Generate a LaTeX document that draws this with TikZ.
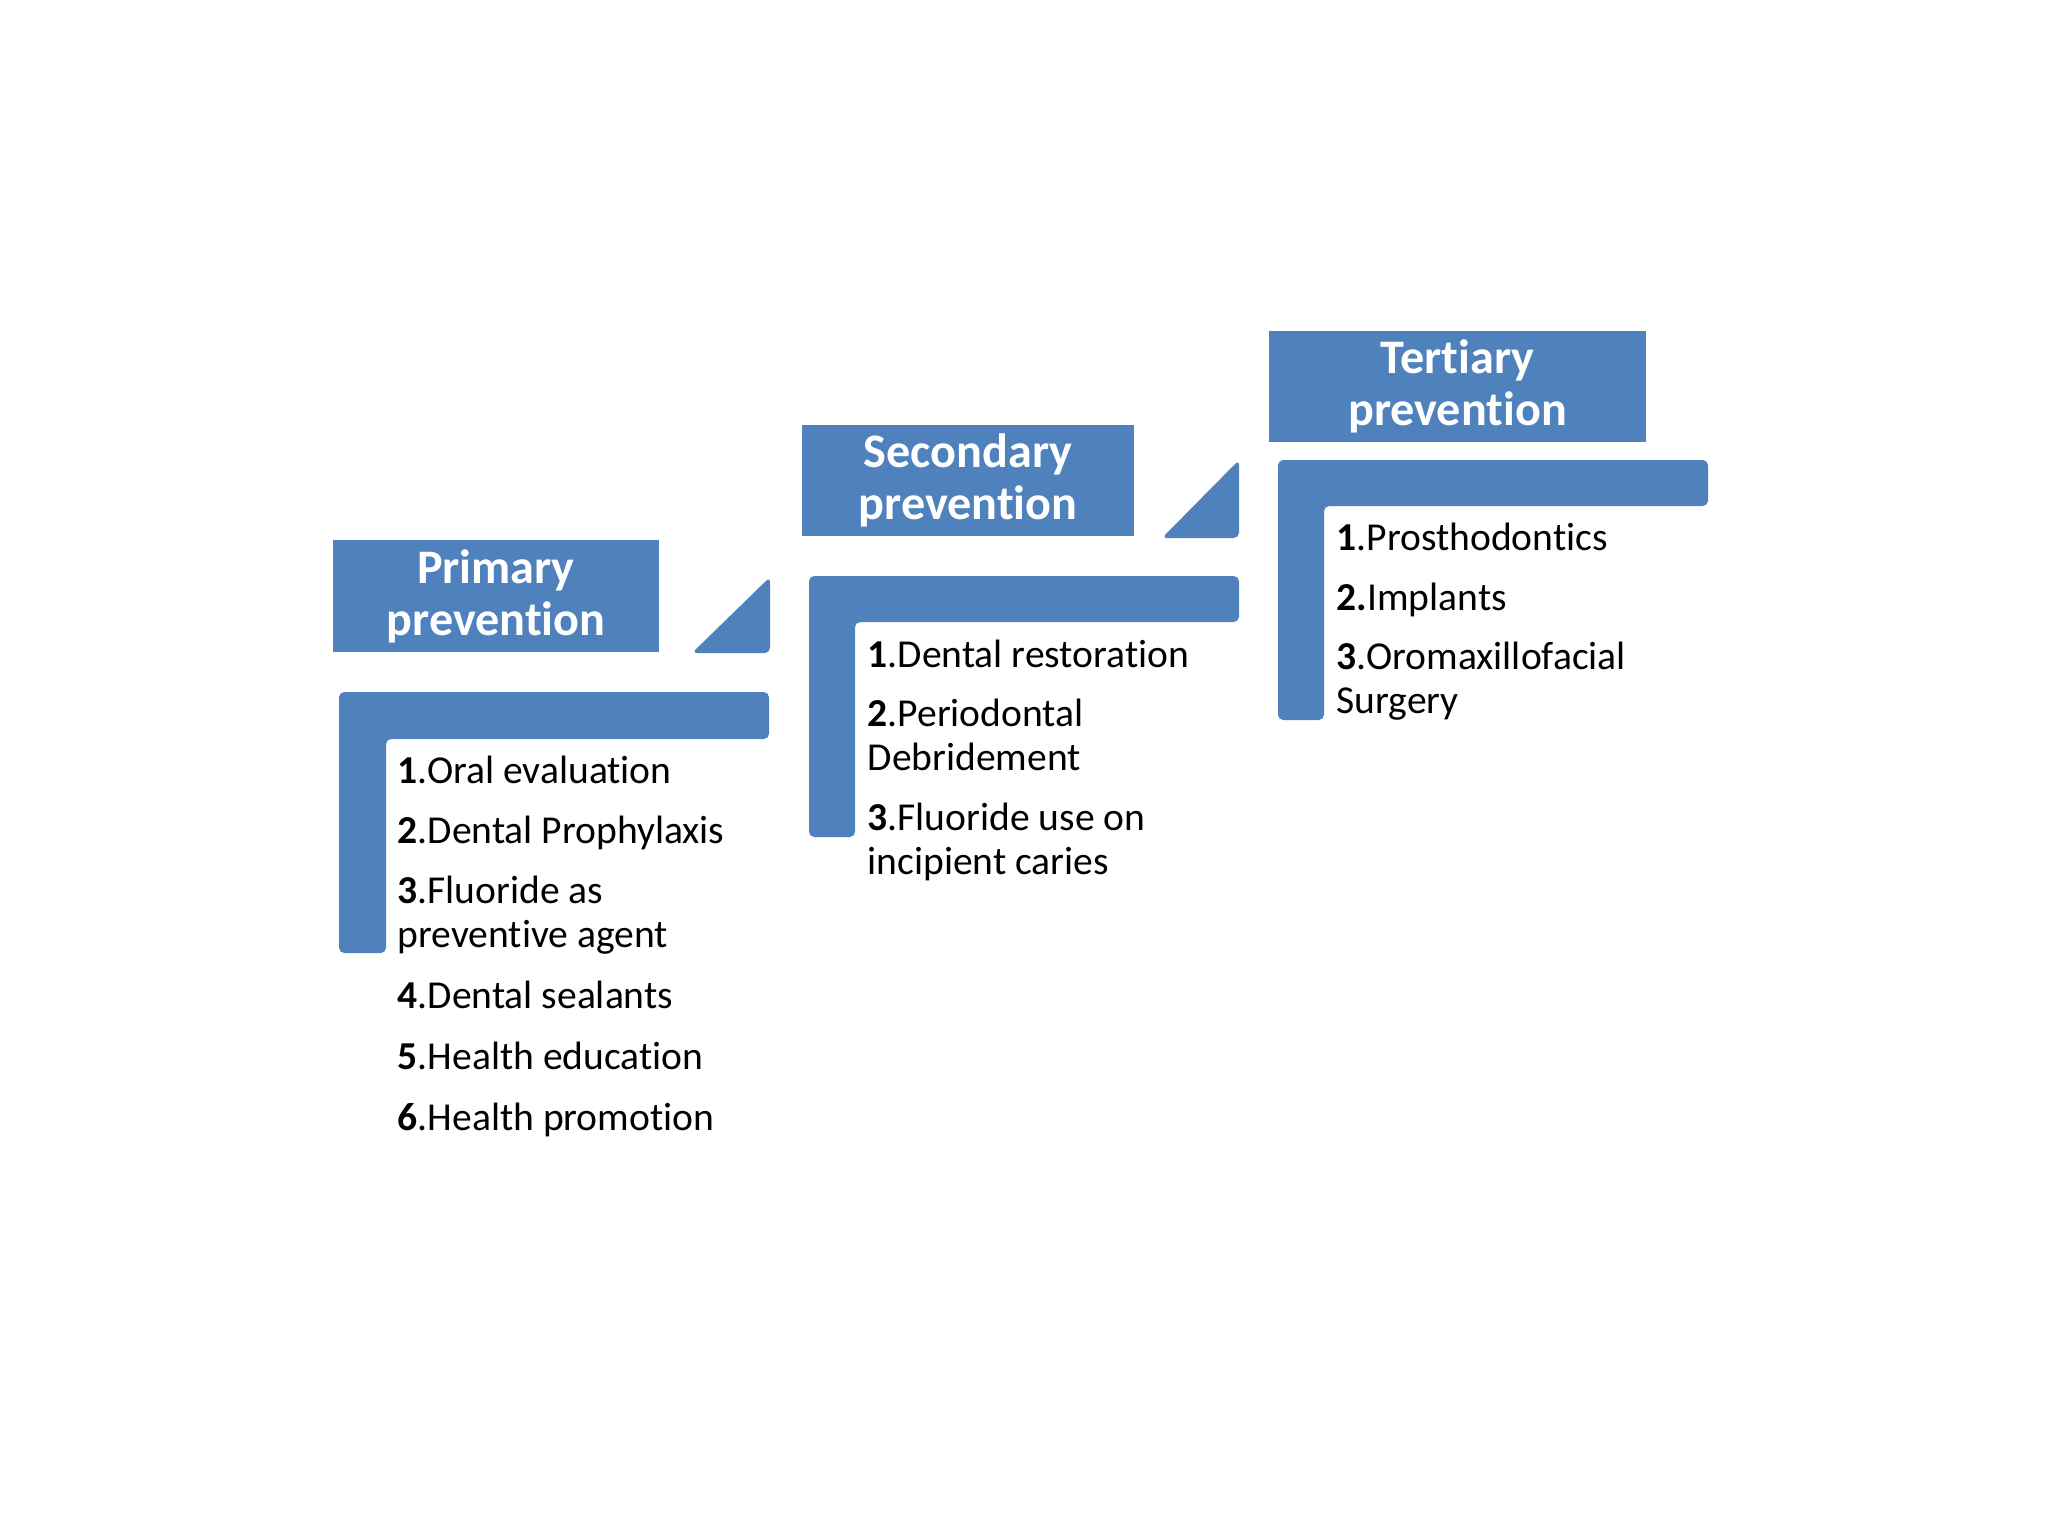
\documentclass[tikz,border=0pt]{standalone}
\usepackage{fontspec}
\setmainfont{Carlito}[Ligatures=NoCommon]
\usetikzlibrary{positioning}
\definecolor{stepblue}{HTML}{4F81BD}

\begin{document}
\begin{tikzpicture}[
  x=0.01cm, y=-0.01cm,
  head/.style={fill=stepblue, text=white, align=center, inner sep=0pt,
               minimum height=1.11cm, font=\fontsize{13.7}{14.8}\selectfont\bfseries},
  item/.style={anchor=base west, align=left, inner sep=0pt,
               font=\fontsize{11.25}{12.5}\selectfont},
  bracket/.style={fill=stepblue, rounded corners=1.5pt},
  wedge/.style={fill=stepblue, rounded corners=1.5pt}
]
  \useasboundingbox (0,0) rectangle (2048,1536);

  \node[head, minimum width=3.26cm] (pp) at (496,596)    {Primary\\prevention};
  \node[head, minimum width=3.32cm] (sp) at (968,480.5)  {Secondary\\prevention};
  \node[head, minimum width=3.77cm] (tp) at (1457.5,386.5) {Tertiary\\prevention};

  \fill[wedge] (692,653) -- (770,653) -- (770,577) -- cycle;
  \fill[wedge] (1162,538) -- (1239,538) -- (1239,460) -- cycle;

  \fill[bracket] (339,692) -- (769,692) -- (769,739) -- (386,739)
      -- (386,953) -- (339,953) -- cycle;
  \fill[bracket] (809,576) -- (1239,576) -- (1239,622) -- (855,622)
      -- (855,837) -- (809,837) -- cycle;
  \fill[bracket] (1278,460) -- (1708,460) -- (1708,506) -- (1324,506)
      -- (1324,720) -- (1278,720) -- cycle;

  % two-line items sit on the baseline of their last line
  \node[item] (p1) at (397,783)  {\textbf{1}.Oral evaluation};
  \node[item] (p2) at (397,843)  {\textbf{2}.Dental Prophylaxis};
  \node[item] (p3) at (397,947)  {\textbf{3}.Fluoride as\\preventive agent};
  \node[item] (p4) at (397,1008) {\textbf{4}.Dental sealants};
  \node[item] (p5) at (397,1069) {\textbf{5}.Health education};
  \node[item] (p6) at (397,1130) {\textbf{6}.Health promotion};

  \node[item] (s1) at (867,667)  {\textbf{1}.Dental restoration};
  \node[item] (s2) at (867,770)  {\textbf{2}.Periodontal\\Debridement};
  \node[item] (s3) at (867,874)  {\textbf{3}.Fluoride use on\\incipient caries};

  \node[item] (t1) at (1336,550) {\textbf{1}.Prosthodontics};
  \node[item] (t2) at (1336,610) {\textbf{2.}Implants};
  \node[item] (t3) at (1336,713) {\textbf{3}.Oromaxillofacial\\Surgery};
\end{tikzpicture}
\end{document}
